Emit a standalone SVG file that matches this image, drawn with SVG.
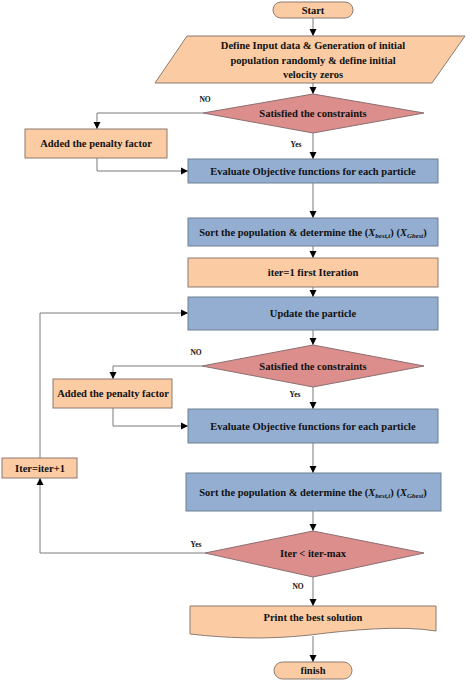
<svg xmlns="http://www.w3.org/2000/svg" width="474" height="683" viewBox="0 0 474 683">
<defs>
<marker id="ah" markerWidth="8" markerHeight="8" refX="7" refY="4" orient="auto" markerUnits="userSpaceOnUse">
<path d="M0,0.5 L7,4 L0,7.5 Z" fill="#000"/>
</marker>
<style>
.o{fill:#FBCBA3;stroke:#8C7B70;stroke-width:1}
.b{fill:#93AED1;stroke:#6F7F90;stroke-width:1}
.d{fill:#DB8E8C;stroke:#8C6F70;stroke-width:1}
.t{font-family:"Liberation Serif","Times New Roman",serif;font-weight:bold;font-size:10.5px;fill:#111;text-anchor:middle}
.l{font-family:"Liberation Serif","Times New Roman",serif;font-weight:bold;font-size:7.5px;fill:#111;text-anchor:middle}
.c{fill:none;stroke:#7a7a7a;stroke-width:1}
.c path{marker-end:url(#ah)}
</style>
</defs>
<rect width="474" height="683" fill="#fff"/>
<g id="connectors" class="c">
<path d="M313,18 V36"/>
<path d="M313,83 V94"/>
<path d="M203,113 H97 V129"/>
<path d="M313,133 V159"/>
<path d="M97,158 V171 H188"/>
<path d="M313,183 V218"/>
<path d="M313,246 V258"/>
<path d="M313,287 V297"/>
<path d="M313,330 V345"/>
<path d="M202,366 H113 V379"/>
<path d="M313,387 V409"/>
<path d="M113,408 V426 H188"/>
<path d="M313,443 V473"/>
<path d="M313,511 V531"/>
<path d="M205,553 H40 V478"/>
<path d="M40,458 V313 H188"/>
<path d="M313,577 V606"/>
<path d="M313,636 V662"/>
</g>
<g id="labels">
<text class="l" x="205" y="102">NO</text>
<text class="l" x="296" y="147">Yes</text>
<text class="l" x="196" y="355">NO</text>
<text class="l" x="295" y="397">Yes</text>
<text class="l" x="196" y="547">Yes</text>
<text class="l" x="298" y="589">NO</text>
</g>
<g id="start">
<rect class="o" x="273" y="2" width="80" height="16" rx="8"/>
<text class="t" x="313" y="14" font-size="11">Start</text>
</g>
<g id="input">
<polygon class="o" points="187,36 465,36 432,83 155,83"/>
<text class="t" x="313" y="49">Define Input data &amp; Generation of initial</text>
<text class="t" x="313" y="64">population randomly &amp; define initial</text>
<text class="t" x="313" y="78">velocity zeros</text>
</g>
<g id="cond1">
<polygon class="d" points="313,94 424,113 313,133 203,113"/>
<text class="t" x="313" y="117">Satisfied the constraints</text>
</g>
<g id="penalty1">
<rect class="o" x="25" y="129" width="142" height="29"/>
<text class="t" x="96" y="147">Added the penalty factor</text>
</g>
<g id="eval1">
<rect class="b" x="188" y="159" width="250" height="24"/>
<text class="t" x="313" y="175">Evaluate Objective functions for each particle</text>
</g>
<g id="sort1">
<rect class="b" x="188" y="218" width="250" height="28"/>
<text class="t" x="313" y="236">Sort the population &amp; determine the (<tspan font-style="italic">X</tspan><tspan font-style="italic" font-size="7" dy="2">best,i</tspan><tspan dy="-2">) (</tspan><tspan font-style="italic">X</tspan><tspan font-style="italic" font-size="7" dy="2">Gbest</tspan><tspan dy="-2">)</tspan></text>
</g>
<g id="iter1">
<rect class="o" x="188" y="258" width="250" height="29"/>
<text class="t" x="313" y="276">iter=1 first Iteration</text>
</g>
<g id="update">
<rect class="b" x="188" y="297" width="250" height="33"/>
<text class="t" x="313" y="317">Update the particle</text>
</g>
<g id="cond2">
<polygon class="d" points="313,345 424,366 313,387 202,366"/>
<text class="t" x="313" y="370">Satisfied the constraints</text>
</g>
<g id="penalty2">
<rect class="o" x="53" y="379" width="119" height="29"/>
<text class="t" x="113" y="397">Added the penalty factor</text>
</g>
<g id="eval2">
<rect class="b" x="188" y="409" width="250" height="34"/>
<text class="t" x="313" y="430">Evaluate Objective functions for each particle</text>
</g>
<g id="sort2">
<rect class="b" x="186" y="473" width="255" height="38"/>
<text class="t" x="313" y="496">Sort the population &amp; determine the (<tspan font-style="italic">X</tspan><tspan font-style="italic" font-size="7" dy="2">best,i</tspan><tspan dy="-2">) (</tspan><tspan font-style="italic">X</tspan><tspan font-style="italic" font-size="7" dy="2">Gbest</tspan><tspan dy="-2">)</tspan></text>
</g>
<g id="iterinc">
<rect class="o" x="2" y="458" width="75" height="20"/>
<text class="t" x="40" y="472">Iter=iter+1</text>
</g>
<g id="cond3">
<polygon class="d" points="313,531 424,553 313,577 205,553"/>
<text class="t" x="313" y="557">Iter &lt; iter-max</text>
</g>
<g id="print">
<path class="o" d="M190,606 H436 V631 C400,625 350,630 310,635 C265,640 225,638 190,634 Z"/>
<text class="t" x="313" y="621">Print the best solution</text>
</g>
<g id="finish">
<rect class="o" x="274" y="662" width="78" height="17" rx="8.5"/>
<text class="t" x="313" y="674">finish</text>
</g>
</svg>
